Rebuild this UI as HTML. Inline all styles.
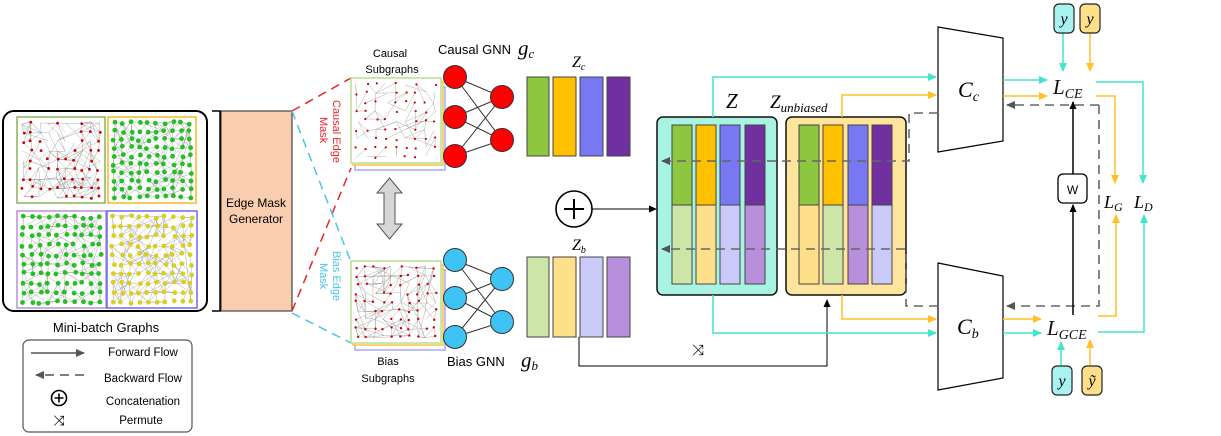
<!DOCTYPE html>
<html><head><meta charset="utf-8"><style>
html,body{margin:0;padding:0;background:#fff;width:1221px;height:436px;overflow:hidden}
svg{display:block}
text{font-family:"Liberation Sans",sans-serif}
.m{font-family:"Liberation Serif",serif;font-style:italic}
</style></head><body>
<svg id="s" width="1221" height="436" viewBox="0 0 1221 436" xmlns="http://www.w3.org/2000/svg">
<defs>
<marker id="ab" markerWidth="8" markerHeight="8" refX="7" refY="4" orient="auto" markerUnits="userSpaceOnUse"><path d="M0,0.5 L8,4 L0,7.5z" fill="#000"/></marker>
<marker id="ag" markerWidth="10" markerHeight="10" refX="8" refY="5" orient="auto" markerUnits="userSpaceOnUse"><path d="M0,1 L9,5 L0,9z" fill="#555"/></marker>
<marker id="ac" markerWidth="10" markerHeight="10" refX="8" refY="5" orient="auto" markerUnits="userSpaceOnUse"><path d="M0,1 L9,5 L0,9z" fill="#3ee6cc"/></marker>
<marker id="ao" markerWidth="10" markerHeight="10" refX="8" refY="5" orient="auto" markerUnits="userSpaceOnUse"><path d="M0,1 L9,5 L0,9z" fill="#ffc125"/></marker>
</defs>

<!-- minibatch -->
<rect x="3" y="111" width="204" height="200" rx="11" fill="#fff" stroke="#000" stroke-width="2"/>
<g id="graphs"></g>
<rect x="17" y="117" width="88" height="86" fill="none" stroke="#8bb05a" stroke-width="1.5"/>
<rect x="108" y="117" width="88" height="86" fill="none" stroke="#f5b820" stroke-width="1.5"/>
<rect x="17" y="211" width="89" height="97" fill="none" stroke="#b88fdb" stroke-width="1.5"/>
<rect x="107" y="211" width="90" height="97" fill="none" stroke="#6a6af0" stroke-width="1.5"/>
<path d="M212,111 H220 V311 H212" fill="none" stroke="#000" stroke-width="1.5"/>
<rect x="221" y="111" width="71" height="200" fill="#f9cdb0" stroke="#222" stroke-width="1"/>
<text x="256" y="207" font-size="12" text-anchor="middle">Edge Mask</text>
<text x="256" y="223" font-size="12" text-anchor="middle">Generator</text>
<text x="106" y="332" font-size="13" text-anchor="middle">Mini-batch Graphs</text>

<!-- legend -->
<rect x="23" y="340" width="169" height="92" rx="6" fill="#fff" stroke="#555" stroke-width="1.2"/>
<line x1="31" y1="353" x2="84" y2="353" stroke="#555" stroke-width="1.5" marker-end="url(#ag)"/>
<text x="143" y="356" font-size="11.5" text-anchor="middle">Forward Flow</text>
<line x1="84" y1="375" x2="36" y2="375" stroke="#555" stroke-width="1.5" stroke-dasharray="9,6" marker-end="url(#ag)"/>
<text x="143" y="382" font-size="11.5" text-anchor="middle">Backward Flow</text>
<circle cx="59" cy="398" r="7.5" fill="#fff" stroke="#000" stroke-width="1.6"/>
<path d="M59,393.5 V402.5 M54.5,398 H63.5" stroke="#000" stroke-width="1.6"/>
<text x="143" y="405" font-size="11.5" text-anchor="middle">Concatenation</text>
<text x="59" y="425" font-size="14" text-anchor="middle">⤨</text>
<text x="141" y="424" font-size="11.5" text-anchor="middle">Permute</text>

<!-- dashed mask lines -->
<g fill="none" stroke-width="1.5" stroke-dasharray="9,6">
<line x1="292" y1="111" x2="351" y2="78" stroke="#e8262a"/>
<line x1="292" y1="311" x2="351" y2="168" stroke="#e8262a"/>
<line x1="292" y1="111" x2="351" y2="262" stroke="#4cc3ea"/>
<line x1="292" y1="313" x2="351" y2="343" stroke="#4cc3ea"/>
</g>
<text font-size="11" fill="#e8262a" transform="translate(333,100) rotate(90)">Causal Edge</text>
<text font-size="11" fill="#e8262a" transform="translate(320,117) rotate(90)">Mask</text>
<text font-size="11" fill="#4cc3ea" transform="translate(333,251) rotate(90)">Bias Edge</text>
<text font-size="11" fill="#4cc3ea" transform="translate(320,263) rotate(90)">Mask</text>

<!-- subgraphs -->
<rect x="355" y="87" width="90" height="83" fill="#fff" stroke="#a9a9f5" stroke-width="1.5"/>
<rect x="353" y="82" width="90" height="83" fill="#fff" stroke="#f5c542" stroke-width="1.5"/>
<rect x="351" y="78" width="90" height="85" fill="#fff" stroke="#bcdc94" stroke-width="1.5"/>
<g id="cg"></g>
<text x="390" y="57" font-size="11" text-anchor="middle">Causal</text>
<text x="392" y="73" font-size="11" text-anchor="middle">Subgraphs</text>
<rect x="355" y="270" width="90" height="80" fill="#fff" stroke="#a9a9f5" stroke-width="1.5"/>
<rect x="353" y="265" width="90" height="80" fill="#fff" stroke="#f5c542" stroke-width="1.5"/>
<rect x="351" y="261" width="90" height="82" fill="#fff" stroke="#bcdc94" stroke-width="1.5"/>
<g id="bg"></g>
<text x="388" y="365" font-size="11" text-anchor="middle">Bias</text>
<text x="388" y="382" font-size="11" text-anchor="middle">Subgraphs</text>
<path d="M389.5,178 L402,193 H395 V224 H402 L389.5,239 L377,224 H384 V193 H377 Z" fill="#d6d6d6" stroke="#555" stroke-width="1"/>

<!-- GNNs -->
<g stroke="#333" stroke-width="1" fill="none">
<path d="M455,77 L502,97 M455,117 L502,97 M455,156 L502,97 M455,77 L502,140 M455,117 L502,140 M455,156 L502,140"/>
<path d="M455,260 L502,279 M455,298 L502,279 M455,337 L502,279 M455,260 L502,322 M455,298 L502,322 M455,337 L502,322"/>
</g>
<g fill="#f00" stroke="#333" stroke-width="1">
<circle cx="455" cy="77" r="11.5"/><circle cx="455" cy="117" r="11.5"/><circle cx="455" cy="156" r="11.5"/>
<circle cx="502" cy="97" r="11.5"/><circle cx="502" cy="140" r="11.5"/>
</g>
<g fill="#3ec3f5" stroke="#333" stroke-width="1">
<circle cx="455" cy="260" r="11.5"/><circle cx="455" cy="298" r="11.5"/><circle cx="455" cy="337" r="11.5"/>
<circle cx="502" cy="279" r="11.5"/><circle cx="502" cy="322" r="11.5"/>
</g>
<text x="438" y="54" font-size="13">Causal GNN</text>
<text class="m" x="518" y="55" font-size="21">g<tspan font-size="13" dy="3">c</tspan></text>
<text x="447" y="366" font-size="13">Bias GNN</text>
<text class="m" x="521" y="367" font-size="21">g<tspan font-size="13" dy="3">b</tspan></text>

<!-- Zc / Zb -->
<g stroke="#444" stroke-width="1">
<rect x="527" y="77" width="22" height="79" fill="#8dc63f"/>
<rect x="553" y="77" width="23" height="79" fill="#ffc000"/>
<rect x="580" y="77" width="23" height="79" fill="#7878f2"/>
<rect x="607" y="77" width="23" height="79" fill="#7030a0"/>
<rect x="527" y="257" width="22" height="80" fill="#cde6a8"/>
<rect x="553" y="257" width="23" height="80" fill="#ffe08a"/>
<rect x="580" y="257" width="23" height="80" fill="#cacaf8"/>
<rect x="607" y="257" width="23" height="80" fill="#b88fdb"/>
</g>
<text class="m" x="572" y="67" font-size="16">Z<tspan font-size="10" dy="3">c</tspan></text>
<text class="m" x="572" y="250" font-size="16">Z<tspan font-size="10" dy="3">b</tspan></text>
<circle cx="574" cy="209" r="18" fill="#fff" stroke="#000" stroke-width="1.6"/>
<path d="M574,199 V219 M564,209 H584" stroke="#000" stroke-width="2"/>
<line x1="592" y1="209" x2="656" y2="209" stroke="#000" stroke-width="1" marker-end="url(#ab)"/>
<path d="M579,337 V366 H827 V300" fill="none" stroke="#000" stroke-width="1" marker-end="url(#ab)"/>
<text x="692" y="355" font-size="15">⤨</text>

<!-- Z boxes -->
<rect x="657" y="117" width="120" height="178" rx="6" fill="#a8f3e2" stroke="#111" stroke-width="1.5"/>
<rect x="786" y="117" width="120" height="178" rx="6" fill="#ffe59c" stroke="#111" stroke-width="1.5"/>
<g stroke="#444" stroke-width="1">
<rect x="672" y="125" width="20" height="80" fill="#8dc63f"/><rect x="672" y="205" width="20" height="79" fill="#cde6a8"/>
<rect x="696" y="125" width="20" height="80" fill="#ffc000"/><rect x="696" y="205" width="20" height="79" fill="#ffe08a"/>
<rect x="720" y="125" width="20" height="80" fill="#7878f2"/><rect x="720" y="205" width="20" height="79" fill="#cacaf8"/>
<rect x="745" y="125" width="20" height="80" fill="#7030a0"/><rect x="745" y="205" width="20" height="79" fill="#b88fdb"/>
<rect x="799" y="125" width="20" height="80" fill="#8dc63f"/><rect x="799" y="205" width="20" height="79" fill="#ffe08a"/>
<rect x="823" y="125" width="20" height="80" fill="#ffc000"/><rect x="823" y="205" width="20" height="79" fill="#cde6a8"/>
<rect x="848" y="125" width="20" height="80" fill="#7878f2"/><rect x="848" y="205" width="20" height="79" fill="#b88fdb"/>
<rect x="872" y="125" width="20" height="80" fill="#7030a0"/><rect x="872" y="205" width="20" height="79" fill="#cacaf8"/>
</g>
<text class="m" x="726" y="108" font-size="21">Z</text>
<text class="m" x="770" y="108" font-size="19">Z<tspan font-size="13" dy="4">unbiased</tspan></text>

<!-- classifiers -->
<path d="M938,27 L1003,38 V141 L938,152 Z" fill="#fff" stroke="#000" stroke-width="1.2"/>
<path d="M938,263 L1003,276 V378 L938,390 Z" fill="#fff" stroke="#000" stroke-width="1.2"/>
<text class="m" x="958" y="97" font-size="22">C<tspan font-size="14" dy="4">c</tspan></text>
<text class="m" x="957" y="334" font-size="22">C<tspan font-size="14" dy="4">b</tspan></text>

<!-- colored flows -->
<g fill="none" stroke-width="1.5">
<path d="M713,117 V77 H936" stroke="#3ee6cc" marker-end="url(#ac)"/>
<path d="M842,117 V95 H936" stroke="#ffc125" marker-end="url(#ao)"/>
<path d="M713,295 V333 H936" stroke="#3ee6cc" marker-end="url(#ac)"/>
<path d="M842,295 V319 H936" stroke="#ffc125" marker-end="url(#ao)"/>
<path d="M1003,80 H1047" stroke="#3ee6cc" marker-end="url(#ac)"/>
<path d="M1003,96 H1047" stroke="#ffc125" marker-end="url(#ao)"/>
<path d="M1003,319 H1041" stroke="#ffc125" marker-end="url(#ao)"/>
<path d="M1003,333 H1041" stroke="#3ee6cc" marker-end="url(#ac)"/>
<path d="M1096,82 H1143 V183" stroke="#3ee6cc" marker-end="url(#ac)"/>
<path d="M1096,96 H1115 V183" stroke="#ffc125" marker-end="url(#ao)"/>
<path d="M1098,316 H1116 V215" stroke="#ffc125" marker-end="url(#ao)"/>
<path d="M1098,332 H1144 V215" stroke="#3ee6cc" marker-end="url(#ac)"/>
<path d="M1063,33 V71" stroke="#3ee6cc" marker-end="url(#ac)"/>
<path d="M1090,33 V71" stroke="#ffc125" marker-end="url(#ao)"/>
<path d="M1061,365 V342" stroke="#3ee6cc" marker-end="url(#ac)"/>
<path d="M1090,365 V340" stroke="#ffc125" marker-end="url(#ao)"/>
</g>

<!-- dashed backward -->
<g fill="none" stroke="#666" stroke-width="1.6" stroke-dasharray="9,6">
<path d="M1099,105 H1007" marker-end="url(#ag)"/>
<path d="M1099,105 V306 H1007" marker-end="url(#ag)"/>
<path d="M938,113 H909 V161 H662" marker-end="url(#ag)"/>
<path d="M938,306 H906 V249 H662" marker-end="url(#ag)"/>
</g>

<!-- W -->
<line x1="1073" y1="315" x2="1073" y2="205" stroke="#000" stroke-width="1.5" marker-end="url(#ab)"/>
<line x1="1073" y1="174" x2="1073" y2="102" stroke="#000" stroke-width="1.5" marker-end="url(#ab)"/>
<rect x="1058" y="174" width="29" height="29" rx="5" fill="#fff" stroke="#000" stroke-width="1.3"/>
<text x="1072.5" y="194" font-size="12" text-anchor="middle">W</text>

<!-- loss labels -->
<text class="m" x="1053" y="94" font-size="21" fill="#111">L<tspan font-size="14" dy="4">CE</tspan></text>
<text class="m" x="1047" y="335" font-size="21" fill="#111">L<tspan font-size="14" dy="4">GCE</tspan></text>
<text class="m" x="1104" y="208" font-size="18">L<tspan font-size="12" dy="3">G</tspan></text>
<text class="m" x="1134" y="208" font-size="18">L<tspan font-size="12" dy="3">D</tspan></text>

<!-- y boxes -->
<rect x="1054" y="4" width="20" height="29" rx="5" fill="#a8f3f0" stroke="#222" stroke-width="1.2"/>
<rect x="1080" y="4" width="20" height="29" rx="5" fill="#ffe08a" stroke="#222" stroke-width="1.2"/>
<rect x="1052" y="366" width="20" height="29" rx="5" fill="#a8f3f0" stroke="#222" stroke-width="1.2"/>
<rect x="1082" y="366" width="20" height="29" rx="5" fill="#ffe08a" stroke="#222" stroke-width="1.2"/>
<text class="m" x="1064" y="24" font-size="16" text-anchor="middle">y</text>
<text class="m" x="1090" y="24" font-size="16" text-anchor="middle">y</text>
<text class="m" x="1062" y="386" font-size="16" text-anchor="middle">y</text>
<text class="m" x="1092" y="386" font-size="16" text-anchor="middle">ỹ</text>
</svg>
<script>
(function(){
var NS="http://www.w3.org/2000/svg",seed=7;
function r(){seed=(seed*16807)%2147483647;return seed/2147483647;}
function graph(gid,x,y,w,h,col,n,sz,edges){
 var g=document.getElementById(gid),pts=[],i,s="";
 var cols=Math.round(Math.sqrt(n*w/h)),rows=Math.ceil(n/cols);
 for(i=0;i<n;i++){var cx=x+4+(i%cols)*(w-8)/(cols-1)+(r()-0.5)*3,cy=y+4+Math.floor(i/cols)*(h-8)/(rows-1)+(r()-0.5)*3;pts.push([cx,cy]);}
 for(i=0;i<edges;i++){var a=pts[Math.floor(r()*n)],b;var tries=0;do{b=pts[Math.floor(r()*n)];tries++;}while(Math.hypot(a[0]-b[0],a[1]-b[1])>w*0.3&&tries<30);
 s+="M"+a[0].toFixed(1)+","+a[1].toFixed(1)+"L"+b[0].toFixed(1)+","+b[1].toFixed(1);}
 var p=document.createElementNS(NS,"path");p.setAttribute("d",s);p.setAttribute("stroke","#999");p.setAttribute("stroke-width","0.4");p.setAttribute("fill","none");g.appendChild(p);
 for(i=0;i<n;i++){if(col!="#c00"||r()<0.6){var c=document.createElementNS(NS,"circle");c.setAttribute("cx",pts[i][0]);c.setAttribute("cy",pts[i][1]);c.setAttribute("r",sz);c.setAttribute("fill",col);g.appendChild(c);}}
}
graph("graphs",19,119,84,82,"#c00",90,1.4,200);
graph("graphs",110,119,84,82,"#22c022",100,2.4,220);
graph("graphs",19,213,85,93,"#22c022",100,2.4,220);
graph("graphs",109,213,86,93,"#d8d020",100,2.4,220);
graph("cg",353,80,86,81,"#c00",80,1.1,70);
graph("bg",353,263,86,78,"#c00",90,1.2,200);
})();
</script>
</body></html>
